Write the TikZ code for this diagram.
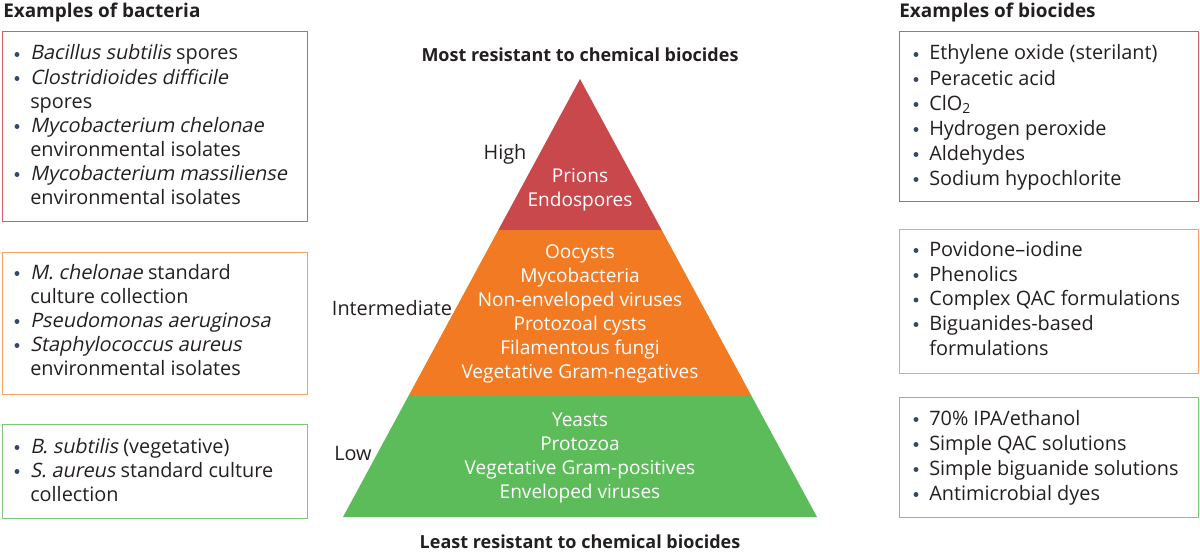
\documentclass[tikz,border=0pt]{standalone}
\usepackage{fontspec}
\setmainfont{Open Sans}
\newfontfamily\slnt[FakeSlant=0.2]{Open Sans}
\newcommand{\spname}[1]{{\slnt #1}}
\definecolor{redF}{RGB}{201,72,75}
\definecolor{orangeF}{RGB}{242,122,34}
\definecolor{greenF}{RGB}{93,188,90}
\definecolor{redB}{RGB}{214,95,98}
\definecolor{orangeB}{RGB}{247,163,92}
\definecolor{greenB}{RGB}{125,200,117}
\definecolor{bulletC}{RGB}{55,72,102}
\definecolor{textC}{RGB}{35,31,32}
\begin{document}
\begin{tikzpicture}[x=0.75pt,y=-0.75pt,
  box/.style={draw=#1, line width=1.1pt},
  itemL/.style={text=textC, inner sep=0pt, font=\fontsize{14.9}{18}\selectfont, align=left, anchor=base west},
  itemR/.style={text=textC, inner sep=0pt, font=\fontsize{14.9}{18.75}\selectfont, align=left, anchor=base west},
  dot/.style={circle, fill=bulletC, inner sep=0pt, minimum size=3.7pt},
  title/.style={text=textC, inner sep=0pt, font=\bfseries\fontsize{#1}{16}\selectfont},
  lvl/.style={text=textC, inner sep=0pt, font=\fontsize{14.9}{18}\selectfont},
  inside/.style={text=white, inner sep=0pt, font=\fontsize{14.3}{18}\selectfont, align=center}]
\useasboundingbox (0,0) rectangle (1200,553);
% titles
\node[title=14.2, anchor=base west] (tb) at (3,17) {Examples of bacteria};
\node[title=14.2, anchor=base west] (tc) at (899,17) {Examples of biocides};
\node[title=13.5, anchor=base] (tm) at (580,61.5) {Most resistant to chemical biocides};
\node[title=13.5, anchor=base] (tl) at (580,548) {Least resistant to chemical biocides};
% pyramid
\coordinate (A) at (580,79);
\coordinate (R1L) at (498.3,230);
\coordinate (R1R) at (661.7,230);
\coordinate (O1L) at (409,395);
\coordinate (O1R) at (751,395);
\coordinate (GL) at (343,517);
\coordinate (GR) at (817,517);
\fill[redF] (A) -- (R1R) -- (R1L) -- cycle;
\fill[orangeF] (R1L) -- (R1R) -- (O1R) -- (O1L) -- cycle;
\fill[greenF] (O1L) -- (O1R) -- (GR) -- (GL) -- cycle;
\node[inside] (pr) at (580,190) {Prions\\Endospores};
\node[inside] (po) at (580,314) {Oocysts\\Mycobacteria\\Non-enveloped viruses\\Protozoal cysts\\Filamentous fungi\\Vegetative Gram-negatives};
\node[inside] (pg) at (580,458) {Yeasts\\Protozoa\\Vegetative Gram-positives\\Enveloped viruses};
\node[lvl] (high) at (505,154) {High};
\node[lvl] (inter) at (392,308) {Intermediate};
\node[lvl] (low) at (353,454) {Low};
% left boxes
\node[box=redB, minimum width=305*0.75pt, minimum height=190*0.75pt, anchor=north west] (lb1) at (2,31) {};
\node[box=orangeB, minimum width=305*0.75pt, minimum height=142*0.75pt, anchor=north west] (lb2) at (2,252) {};
\node[box=greenB, minimum width=305*0.75pt, minimum height=94*0.75pt, anchor=north west] (lb3) at (2,424) {};
% left items (anchor = baseline of last line)
\node[itemL] (a1) at (30,60) {\spname{Bacillus subtilis} spores};
\node[itemL] (a2) at (30,108) {\spname{Clostridioides difficile}\\spores};
\node[itemL] (a3) at (30,156) {\spname{Mycobacterium chelonae}\\environmental isolates};
\node[itemL] (a4) at (30,204) {\spname{Mycobacterium massiliense}\\environmental isolates};
\node[itemL] (b1) at (30,303) {\spname{M. chelonae} standard\\culture collection};
\node[itemL] (b2) at (30,327) {\spname{Pseudomonas aeruginosa}};
\node[itemL] (b3) at (30,375) {\spname{Staphylococcus aureus}\\environmental isolates};
\node[itemL] (c1) at (30,453) {\spname{B. subtilis} (vegetative)};
\node[itemL] (c2) at (30,501) {\spname{S. aureus} standard culture\\collection};
\foreach \y [count=\i] in {60,84,132,180,279,327,351,453,477}
  \node[dot] (ld\i) at (17,\y-5.5) {};
% right boxes
\node[box=redB, minimum width=299*0.75pt, minimum height=170*0.75pt, anchor=north west] (rb1) at (899,31) {};
\node[box=orangeB, minimum width=299*0.75pt, minimum height=144*0.75pt, anchor=north west] (rb2) at (899,229) {};
\node[box=greenB, minimum width=299*0.75pt, minimum height=120*0.75pt, anchor=north west] (rb3) at (899,397) {};
% right items
\node[itemR] (d1) at (929,60) {Ethylene oxide (sterilant)};
\node[itemR] (d2) at (929,85) {Peracetic acid};
\node[itemR] (d3) at (929,110) {ClO\textsubscript{2}};
\node[itemR] (d4) at (929,135) {Hydrogen peroxide};
\node[itemR] (d5) at (929,160) {Aldehydes};
\node[itemR] (d6) at (929,185) {Sodium hypochlorite};
\node[itemR] (e1) at (929,256) {Povidone–iodine};
\node[itemR] (e2) at (929,281) {Phenolics};
\node[itemR] (e3) at (929,305.5) {Complex QAC formulations};
\node[itemR] (e4) at (929,355) {Biguanides-based\\formulations};
\node[itemR] (f1) at (929,425) {70\% IPA/ethanol};
\node[itemR] (f2) at (929,450) {Simple QAC solutions};
\node[itemR] (f3) at (929,475) {Simple biguanide solutions};
\node[itemR] (f4) at (929,500) {Antimicrobial dyes};
\foreach \y [count=\i] in {60,85,110,135,160,185,256,281,305.5,330,425,450,475,500}
  \node[dot] (rd\i) at (916,\y-5.5) {};
\end{tikzpicture}
\end{document}
